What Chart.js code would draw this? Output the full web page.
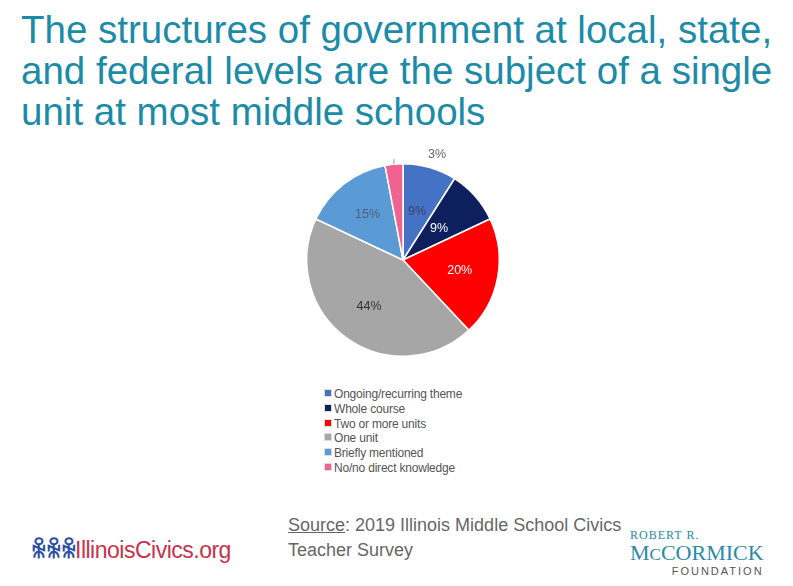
<!DOCTYPE html>
<html><head><meta charset="utf-8">
<script src="https://cdn.jsdelivr.net/npm/chart.js@4"></script>
<style>
body{margin:0;width:793px;height:586px;background:#fff;position:relative;overflow:hidden;font-family:"Liberation Sans",Arial,sans-serif}
#title{position:absolute;left:21px;top:9px;font-size:38.5px;line-height:41px;color:#1b8ba8;white-space:nowrap}
#wrap{position:absolute;left:283px;top:140px;width:240px;height:240px}
#legend{position:absolute;left:324px;top:387px;font-size:12px;color:#555;line-height:14.8px;letter-spacing:-0.2px}
#legend span{display:inline-block;width:6px;height:6px;margin-right:2px;vertical-align:1px;border:1px solid #ddd}
#src{position:absolute;left:288px;top:513px;font-size:18px;color:#666;line-height:25px}
#ic{position:absolute;left:30px;top:533px;font-size:23px;color:#c8324a;letter-spacing:-0.5px}
#ic b{color:#2b4ea2;font-weight:bold;letter-spacing:-3px}
#mc{position:absolute;left:630px;top:528px;color:#2a8aa8;font-family:"Liberation Serif",serif;text-align:right}
</style></head><body>
<div id="title">The structures of government at local, state,<br>and federal levels are the subject of a single<br>unit at most middle schools</div>
<div id="wrap"><canvas id="c"></canvas></div>
<div id="legend"></div>
<div id="src"><u>Source</u>: 2019 Illinois Middle School Civics<br>Teacher Survey</div>
<div id="ic"><b>ꆜꆜꆜ</b>IllinoisCivics.org</div>
<div id="mc"><div style="font-size:12px;text-align:left;letter-spacing:1px">ROBERT R.</div><div style="font-size:22px;line-height:20px">M<span style="font-size:17px">C</span>CORMICK</div><div style="font-size:11px;color:#555;font-family:'Liberation Sans';letter-spacing:2px">FOUNDATION</div></div>
<script>
const categories=["Ongoing/recurring theme","Whole course","Two or more units","One unit","Briefly mentioned","No/no direct knowledge"];
const values=[9,9,20,44,15,3];
const colors=["#4472c4","#0d1f5c","#ff0000","#a6a6a6","#5b9bd5","#f06292"];
const labelColors=["#404060","#ffffff","#ffffff","#333333","#505f80","#666666"];
document.getElementById('legend').innerHTML=categories.map((c,i)=>`<div><span style="background:${colors[i]}"></span>${c}</div>`).join('');
const labels={id:'lbl',afterDatasetsDraw(ch){const ctx=ch.ctx;const arcs=ch.getDatasetMeta(0).data;ctx.save();ctx.font='12.5px "Liberation Sans",Arial';ctx.textAlign='center';ctx.textBaseline='middle';
arcs.forEach((a,i)=>{const m=(a.startAngle+a.endAngle)/2;let r=a.outerRadius*0.6;if(i===5){
const x1=a.x+Math.cos(m)*a.outerRadius,y1=a.y+Math.sin(m)*a.outerRadius;ctx.strokeStyle='#999';ctx.beginPath();ctx.moveTo(x1,y1);ctx.lineTo(x1,y1-5);ctx.stroke();
ctx.fillStyle=labelColors[i];ctx.fillText(values[i]+'%',a.x+34,a.y-105);return;}
if(i===0)r=a.outerRadius*0.52;if(i===1)r=a.outerRadius*0.5;
ctx.fillStyle=labelColors[i];ctx.fillText(values[i]+'%',a.x+Math.cos(m)*r,a.y+Math.sin(m)*r);});ctx.restore();}};
new Chart(document.getElementById('c'),{type:'pie',data:{labels:categories,datasets:[{data:values,backgroundColor:colors,borderColor:'#fff',borderWidth:1.5}]},
options:{responsive:true,maintainAspectRatio:false,animation:false,layout:{padding:23},plugins:{legend:{display:false},tooltip:{enabled:false}}},plugins:[labels]});
</script></body></html>
